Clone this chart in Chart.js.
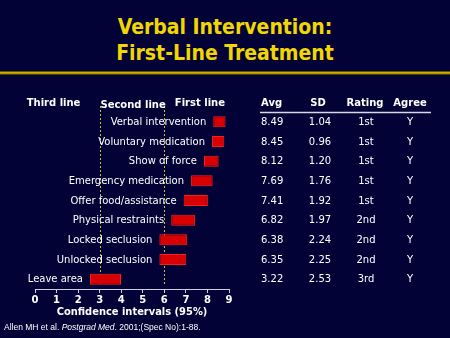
<!DOCTYPE html>
<html>
<head>
<meta charset="utf-8">
<script src="https://cdn.jsdelivr.net/npm/chart.js@4/dist/chart.umd.min.js"></script>
<style>
  html, body { margin: 0; padding: 0; background: #020236; }
  #wrap { position: relative; width: 450px; height: 338px; overflow: hidden; background: #020236; }
  #title { position: absolute; left: 0; top: 14px; width: 450px; text-align: center; color: #f2d600;
           font: bold 21px "DejaVu Sans Condensed", "DejaVu Sans", sans-serif; line-height: 26px; }
  #rule { position: absolute; left: 0; top: 71px; width: 450px; height: 4px;
          background: linear-gradient(to bottom, #2a2400, #d8b800 40%, #a88c00 65%, #1a1800); }
  #cite { position: absolute; left: 4px; top: 322px; color: #ffffff; font: 8.5px "Liberation Sans", Arial, sans-serif; white-space: nowrap; }
  canvas { position: absolute; left: 0; top: 0; }
</style>
</head>
<body>
<div id="wrap">
  <div id="title">Verbal Intervention:<br>First-Line Treatment</div>
  <div id="rule"></div>
  <canvas id="c" width="450" height="338"></canvas>
  <div id="cite">Allen MH et al. <i>Postgrad Med</i>. 2001;(Spec No):1-88.</div>
</div>
<script>
// Interventions, ranked by average rating
const categories = ['Verbal intervention', 'Voluntary medication', 'Show of force', 'Emergency medication',
  'Offer food/assistance', 'Physical restraints', 'Locked seclusion', 'Unlocked seclusion', 'Leave area'];
// 95% confidence interval bounds
const ciLow  = [8.27, 8.21, 7.84, 7.24, 6.90, 6.32, 5.77, 5.77, 2.55];
const ciHigh = [8.84, 8.78, 8.52, 8.24, 8.02, 7.42, 7.06, 7.02, 3.99];
// Table columns
const avg    = ['8.49', '8.45', '8.12', '7.69', '7.41', '6.82', '6.38', '6.35', '3.22'];
const sd     = ['1.04', '0.96', '1.20', '1.76', '1.92', '1.97', '2.24', '2.25', '2.53'];
const rating = ['1st', '1st', '1st', '1st', '1st', '2nd', '2nd', '2nd', '3rd'];
const agree  = ['Y', 'Y', 'Y', 'Y', 'Y', 'Y', 'Y', 'Y', 'Y'];
// Tier boundaries and tier headings
const tierBounds = [3, 6];
const tierNames = ['Third line', 'Second line', 'First line'];
const xTicks = [0, 1, 2, 3, 4, 5, 6, 7, 8, 9];

const FONT = '"DejaVu Sans", sans-serif';
const FONT_COND = '"DejaVu Sans Condensed", "DejaVu Sans", sans-serif';

const overlay = {
  id: 'overlay',
  beforeDatasetsDraw(chart) {
    const { ctx, scales: { x }, chartArea } = chart;
    ctx.save();
    ctx.strokeStyle = '#cfc23a';
    ctx.lineWidth = 1;
    ctx.setLineDash([2, 2]);
    tierBounds.forEach(v => {
      const px = Math.round(x.getPixelForValue(v)) + 0.5;
      ctx.beginPath();
      ctx.moveTo(px, 106);
      ctx.lineTo(px, chartArea.bottom - 5);
      ctx.stroke();
    });
    ctx.restore();
  },
  afterDatasetsDraw(chart) {
    const { ctx, scales: { x, y } } = chart;
    ctx.save();
    ctx.fillStyle = '#ffffff';
    ctx.textBaseline = 'middle';

    // tier headings
    ctx.font = 'bold 10px ' + FONT;
    ctx.textAlign = 'center';
    const headX = [x.getPixelForValue(0.86), x.getPixelForValue(4.55), x.getPixelForValue(7.65)];
    tierNames.forEach((t, i) => ctx.fillText(t, headX[i], i === 1 ? 105 : 103));

    // labels to the left of each interval bar
    ctx.font = '10px ' + FONT;
    ctx.textAlign = 'right';
    categories.forEach((c, i) => {
      ctx.fillText(c, x.getPixelForValue(ciLow[i]) - 7, y.getPixelForValue(i) + 0.5);
    });

    // table
    const colAvg = 261, colSd = 318, colRate = 365, colAgree = 410;
    ctx.font = 'bold 10px ' + FONT;
    ctx.textAlign = 'left';
    ctx.fillText('Avg', colAvg, 103);
    ctx.textAlign = 'center';
    ctx.fillText('SD', colSd, 103);
    ctx.fillText('Rating', colRate, 103);
    ctx.fillText('Agree', colAgree, 103);
    ctx.strokeStyle = '#d8d8e8';
    ctx.lineWidth = 1.5;
    ctx.beginPath();
    ctx.moveTo(260, 112.5);
    ctx.lineTo(431, 112.5);
    ctx.stroke();

    ctx.font = '10px ' + FONT;
    categories.forEach((c, i) => {
      const py = y.getPixelForValue(i) + 0.5;
      ctx.textAlign = 'left';
      ctx.fillText(avg[i], colAvg, py);
      ctx.textAlign = 'center';
      ctx.fillText(sd[i], colSd + 2, py);
      ctx.fillText(rating[i], colRate + 1, py);
      ctx.fillText(agree[i], colAgree, py);
    });
    ctx.restore();
  }
};

new Chart(document.getElementById('c'), {
  type: 'bar',
  data: {
    labels: categories,
    datasets: [{
      data: categories.map((c, i) => [ciLow[i], ciHigh[i]]),
      backgroundColor: '#d80000',
      borderColor: '#f42020',
      borderWidth: 1,
      borderSkipped: false,
      barPercentage: 0.56,
      categoryPercentage: 1
    }]
  },
  options: {
    indexAxis: 'y',
    responsive: false,
    animation: false,
    layout: { padding: { left: 35, right: 221, top: 112, bottom: 20 } },
    plugins: { legend: { display: false }, tooltip: { enabled: false } },
    scales: {
      y: { type: 'category', display: false },
      x: {
        type: 'linear', min: 0, max: 9,
        afterBuildTicks: axis => { axis.ticks = xTicks.map(v => ({ value: v })); },
        grid: { drawOnChartArea: false, drawTicks: true, tickLength: 4, color: '#cfcfdf' },
        border: { display: true, color: '#cfcfdf', width: 1 },
        ticks: { color: '#ffffff', padding: 1, font: { family: FONT, size: 10, weight: 'bold' } },
        title: { display: true, text: 'Confidence intervals (95%)', color: '#ffffff', padding: 0,
                 font: { family: FONT_COND, size: 11, weight: 'bold', lineHeight: 1 } }
      }
    }
  },
  plugins: [overlay]
});
</script>
</body>
</html>
